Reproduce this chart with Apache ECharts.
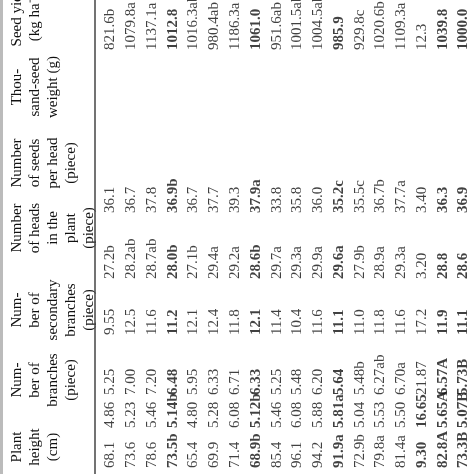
<!DOCTYPE html>
<html><head><meta charset="utf-8">
<script src="https://cdn.jsdelivr.net/npm/echarts@6/dist/echarts.min.js"></script>
<style>html,body{margin:0;padding:0;background:#fff}#c{width:474px;height:474px}</style>
</head><body><div id="c"></div>
<script>
const rows = ['r1','r2','r3','r4','r5','r6','r7','r8','r9','r10','r11','r12','r13','r14','r15','r16','r17','r18'];
const plantHeight = ['68.1','73.6','78.6','73.5b','65.4','69.9','71.4','68.9b','85.4','96.1','94.2','91.9a','72.9b','79.8a','81.4a','9.30','82.8A','73.3B'];
const branches = ['4.86','5.23','5.46','5.14b','4.80','5.28','6.08','5.12b','5.46','6.08','5.88','5.81a','5.04','5.53','5.50','16.65','5.65A','5.07B'];
const secondary = ['5.25','7.00','7.20','6.48','5.95','6.33','6.71','6.33','5.25','5.48','6.20','5.64','5.48b','6.27ab','6.70a','21.87','6.57A','5.73B'];
const heads = ['9.55','12.5','11.6','11.2','12.1','12.4','11.8','12.1','11.4','10.4','11.6','11.1','11.0','11.8','11.6','17.2','11.9','11.1'];
const seedsPerHead = ['27.2b','28.2ab','28.7ab','28.0b','27.1b','29.4a','29.2a','28.6b','29.7a','29.3a','29.9a','29.6a','27.9b','28.9a','29.3a','3.20','28.8','28.6'];
const thousandSeed = ['36.1','36.7','37.8','36.9b','36.7','37.7','39.3','37.9a','33.8','35.8','36.0','35.2c','35.5c','36.7b','37.7a','3.40','36.3','36.9'];
const seedYield = ['821.6b','1079.8a','1137.1a','1012.8','1016.3ab','980.4ab','1186.3a','1061.0','951.6ab','1001.5ab','1004.5ab','985.9','929.8c','1020.6b','1109.3a','12.3','1039.8','1000.0'];
const boldRows = [3,7,11,16,17];
const boldCv = [15];

const bands = [
 {vals:plantHeight, start:468, hc:447, head:['Plant','height','(cm)'], cvBold:true},
 {vals:branches, start:428, hc:380, head:['Num-','ber of','branches','(piece)'], cvBold:true},
 {vals:secondary, start:395, hc:310, head:['Num-','ber of','secondary','branches','(piece)']},
 {vals:heads, start:335, hc:228, head:['Number','of heads','in the','plant','(piece)']},
 {vals:seedsPerHead, start:279, hc:163, head:['Number','of seeds','per head','(piece)']},
 {vals:thousandSeed, start:213, hc:87, head:['Thou-','sand-seed','weight (g)']},
 {vals:seedYield, start:50, hc:15, head:['Seed yield','(kg ha\u207B\u00B9)']}
];
const font = 'Liberation Serif';
const series = bands.map(b => ({
  type:'scatter', symbolSize:0, silent:true,
  data: b.vals.map((v,i)=>{
    const bold = boldRows.includes(i) || (b.cvBold && boldCv.includes(i));
    return {value:[i,b.start], label:{fontWeight: bold?'bold':'normal'}};
  }),
  label:{show:true, position:'inside', rotate:90, align:'left', verticalAlign:'middle',
    fontFamily:font, fontSize:15, color:'#111',
    formatter: p => b.vals[p.dataIndex]}
}));
const graphic = bands.map(b => ({
  type:'text', x: 8 + b.head.length*9, y: b.hc, rotation: Math.PI/2,
  style:{text:b.head.join('\n'), font:'15px "'+font+'"', fill:'#111',
    textAlign:'center', textVerticalAlign:'middle', lineHeight:18}
}));
graphic.push({type:'line', shape:{x1:95,y1:0,x2:95,y2:474}, style:{stroke:'#444', lineWidth:1.5}});
graphic.push({type:'rect', shape:{x:0,y:0,width:3,height:474}, style:{fill:'#bbb'}});
const chart = echarts.init(document.getElementById('c'));
chart.setOption({
  animation:false,
  grid:{left:100,right:0,top:0,bottom:0},
  xAxis:{type:'category', data:rows, show:false},
  yAxis:{type:'value', min:0, max:474, inverse:true, show:false},
  series, graphic
});
</script></body></html>
